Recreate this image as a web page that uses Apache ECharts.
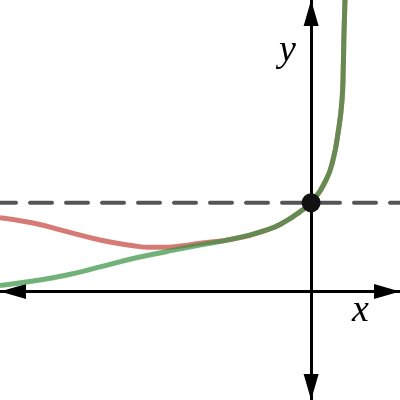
<!DOCTYPE html>
<html>
<head>
  <meta charset="UTF-8">
  <title>curve</title>
  <script src="https://cdn.jsdelivr.net/npm/echarts@6/dist/echarts.min.js"></script>
  <style>
    html, body { margin: 0; padding: 0; background: #fff; }
  </style>
</head>
<body>
  <div id="chart" style="width: 400px;height:400px;"></div>
  <script type="text/javascript">
    // view window in graph units
    const xRange = [-3.5, 1];
    const yRange = [-1.22, 3.28];
    // horizontal asymptote level and the marked point
    const levelY = 1;
    const markPoint = [0, 1];
    const axisNames = ['x', 'y'];

    // green curve
    const greenCurve = [
      [-3.5, 0.069], [-3.128, 0.119], [-2.746, 0.187], [-2.375, 0.277],
      [-2.003, 0.372], [-1.621, 0.451], [-1.25, 0.524], [-0.879, 0.592],
      [-0.496, 0.693], [-0.293, 0.786], [-0.125, 0.899], [0, 1.0],
      [0.168, 1.255], [0.246, 1.48], [0.303, 1.784], [0.348, 2.155],
      [0.362, 2.527], [0.37, 2.909], [0.381, 3.28]
    ];
    // red curve: its own left part, then it runs along the green one
    const redHead = [
      [-3.5, 0.831], [-3.128, 0.772], [-2.746, 0.674], [-2.375, 0.58],
      [-2.003, 0.516], [-1.812, 0.498], [-1.621, 0.498], [-1.441, 0.516],
      [-1.25, 0.543]
    ];
    const redCurve = redHead.concat(greenCurve.slice(7));

    const myChart = echarts.init(document.getElementById('chart'));

    const axisCommon = {
      type: 'value',
      splitLine: { show: false },
      axisTick: { show: false },
      axisLabel: { show: false },
      axisLine: {
        show: true,
        onZero: true,
        symbol: ['triangle', 'triangle'],
        symbolSize: [15, 26],
        symbolOffset: [13, -13],
        lineStyle: { color: '#000', width: 3 }
      }
    };

    const option = {
      animation: false,
      grid: { left: 0, right: 0, top: 0, bottom: 0 },
      xAxis: Object.assign({}, axisCommon, { min: xRange[0], max: xRange[1] }),
      yAxis: Object.assign({}, axisCommon, { min: yRange[0], max: yRange[1] }),
      graphic: [
        {
          type: 'text', left: 352, top: 292, z: 100,
          style: { text: axisNames[0], font: 'italic 38px "Liberation Serif"', fill: '#000' }
        },
        {
          type: 'text', left: 279, top: 32, z: 100,
          style: { text: axisNames[1], font: 'italic 38px "Liberation Serif"', fill: '#000' }
        }
      ],
      series: [
        {
          type: 'line',
          data: [[xRange[0], levelY], [xRange[1], levelY]],
          symbol: 'none',
          clip: false,
          z: 3,
          lineStyle: { color: '#555', width: 4, type: [22, 14], dashOffset: 6, cap: 'round' }
        },
        {
          type: 'line',
          data: redCurve,
          symbol: 'none',
          smooth: 0.5,
          clip: false,
          z: 4,
          lineStyle: { color: 'rgb(195,65,58)', opacity: 0.7, width: 5 }
        },
        {
          type: 'line',
          data: greenCurve,
          symbol: 'none',
          smooth: 0.5,
          clip: false,
          z: 5,
          lineStyle: { color: 'rgb(54,145,65)', opacity: 0.7, width: 5 }
        },
        {
          type: 'scatter',
          data: [markPoint],
          symbol: 'circle',
          symbolSize: 19,
          z: 6,
          itemStyle: { color: '#111', opacity: 1 }
        }
      ]
    };
    myChart.setOption(option);
  </script>
</body>
</html>
